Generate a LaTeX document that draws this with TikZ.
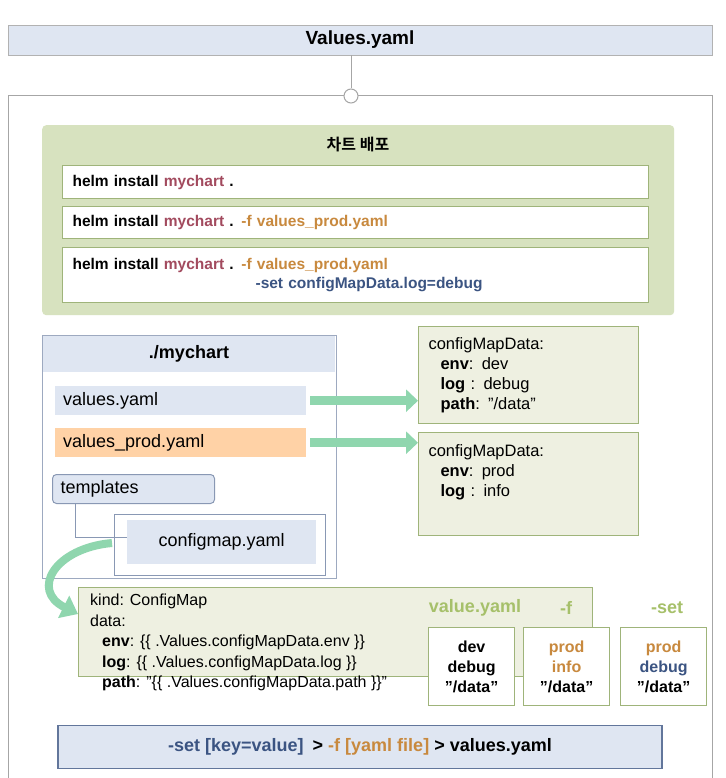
\documentclass[tikz,border=0pt]{standalone}
\usepackage{fontspec}
\setmainfont{Liberation Sans}
\newfontfamily\kr{Noto Sans CJK KR}[BoldFont={Noto Sans CJK KR Bold}]
\usetikzlibrary{arrows.meta}
\definecolor{hdr}{HTML}{DFE6F2}
\definecolor{grn}{HTML}{D7E2BF}
\definecolor{grnb}{HTML}{9FB47A}
\definecolor{mar}{HTML}{A24A5E}
\definecolor{org}{HTML}{C8893E}
\definecolor{blu}{HTML}{3B5482}
\definecolor{olv}{HTML}{A6C06A}
\definecolor{cfg}{HTML}{EEF0E1}
\definecolor{arr}{HTML}{8FD6AE}
\tikzset{
  cmd/.style={draw=grnb,fill=white,line width=1.2pt,minimum width=586pt,align=left,anchor=north west,text width=566pt,inner xsep=10pt,font=\fontsize{15.5}{19}\selectfont\bfseries},
  file/.style={minimum width=251pt,minimum height=29pt,anchor=north west,text width=235pt,font=\fontsize{18}{21}\selectfont},
  cbox/.style={draw=grnb,fill=cfg,line width=1pt,anchor=north west,minimum width=220pt,text width=200pt,inner xsep=10pt,align=left,font=\fontsize{16.5}{20}\selectfont},
  vbox/.style={draw=grnb,fill=white,line width=1.2pt,anchor=north west,minimum width=86pt,minimum height=78pt,align=center,font=\fontsize{16}{20}\selectfont\bfseries},
  lbl/.style={text=olv,font=\fontsize{18}{21}\selectfont\bfseries},
  garr/.style={arr,line width=9pt,-{Triangle[length=12pt,width=22pt]}}
}
\begin{document}
\begin{tikzpicture}[x=1pt,y=-1pt]
\useasboundingbox (0,0) rectangle (725,778);
\fill[white] (0,0) rectangle (725,778);
% top
\node[draw=gray!60,fill=hdr,minimum width=704pt,minimum height=30pt,font=\fontsize{19}{22}\selectfont\bfseries] (top) at (360,40) {Values.yaml};
\draw[gray!70,line width=1pt] (8,96) rectangle (712,790);
\node[draw=gray!70,fill=white,circle,line width=1pt,minimum size=14pt,inner sep=0pt] (circ) at (351,96) {};
\draw[gray!70,line width=1pt] (circ.north) -- (circ.north |- top.south);
% deploy box
\node[fill=grn,rounded corners=4pt,minimum width=632pt,minimum height=190pt,anchor=north west] (dep) at (42,125) {};
\node[font=\kr\fontsize{16}{19}\selectfont\bfseries] (deptitle) at (358,145) {차트 배포};
\node[cmd,minimum height=33pt] (c1) at (62,165) {helm install \textcolor{mar}{mychart} .};
\node[cmd,minimum height=32pt] (c2) at (62,206) {helm install \textcolor{mar}{mychart} . \textcolor{org}{-f values\_prod.yaml}};
\node[cmd,minimum height=55pt] (c3) at (62,247) {helm install \textcolor{mar}{mychart} . \textcolor{org}{-f values\_prod.yaml}\\\hspace*{183pt}\textcolor{blu}{-set configMapData.log=debug}};
% mychart
\node[draw=blu!50,fill=white,line width=1pt,minimum width=294pt,minimum height=243pt,anchor=north west] (mc) at (42,335) {};
\fill[hdr] (43,336) rectangle (335,372);
\node[font=\fontsize{18}{21}\selectfont\bfseries] (mct) at (189,354) {./mychart};
\node[file,fill=hdr] (v1) at (55,386) {values.yaml};
\node[file,fill=orange!35!white] (v2) at (55,428) {values\_prod.yaml};
\node[draw=blu!60,fill=hdr,rounded corners=4pt,line width=1pt,minimum width=162pt,minimum height=29pt,anchor=north west,text width=146pt,font=\fontsize{18}{21}\selectfont] (tp) at (52,474) {templates};
\node[draw=blu!60,line width=1pt,minimum width=211pt,minimum height=61pt,anchor=north west] (cmo) at (114,514) {};
\node[fill=hdr,minimum width=189pt,minimum height=44pt,anchor=north west,font=\fontsize{18}{21}\selectfont] (cm) at (127,520) {configmap.yaml};
\draw[blu!60,line width=1pt] (75,503) -- (75,537) -- (127,537);
% config boxes
\node[cbox,minimum height=97pt] (k1) at (418,326) {configMapData:\\\hspace*{12pt}\textbf{env}: dev\\\hspace*{12pt}\textbf{log} : debug\\\hspace*{12pt}\textbf{path}: "/data"};
\node[cbox,minimum height=103pt] (k2) at (418,432) {configMapData:\\\hspace*{12pt}\textbf{env}: prod\\\hspace*{12pt}\textbf{log} : info\\\strut};
\draw[garr] (v1.east)++(4,0) -- (k1.west |- v1.east);
\draw[garr] (v2.east)++(4,0) -- (k2.west |- v2.east);
% configmap box
\node[draw=grnb,fill=cfg,line width=1pt,minimum width=514pt,minimum height=89pt,anchor=north west] (cmb) at (78,587) {};
\node[anchor=north west,align=left,font=\fontsize{16}{20.5}\selectfont,inner sep=0pt] (cmt) at (90,594) {kind: ConfigMap\\data:\\\hspace*{12pt}\textbf{env}: \{\{ .Values.configMapData.env \}\}\\\hspace*{12pt}\textbf{log}: \{\{ .Values.configMapData.log \}\}\\\hspace*{12pt}\textbf{path}: "\{\{ .Values.configMapData.path \}\}"};
\node[lbl] (l1) at (475,608) {value.yaml};
\node[lbl] (l2) at (566,608) {-f};
\node[lbl] (l3) at (667,608) {-set};
\node[vbox] (b1) at (428,627) {dev\\debug\\"/data"};
\node[vbox] (b2) at (523,627) {\textcolor{org}{prod}\\\textcolor{org}{info}\\"/data"};
\node[vbox] (b3) at (620,627) {\textcolor{org}{prod}\\\textcolor{blu}{debug}\\"/data"};
% curved arrow
\coordinate (cs) at (112,543);
\draw[arr,line width=8pt,-{Triangle[length=16pt,width=24pt]}] (cs) .. controls (55,548) and (30,590) .. (cmb.west |- 0,614);
% bottom bar
\node[draw=blu!80,fill=hdr,line width=1.5pt,minimum width=604pt,minimum height=43pt,font=\fontsize{18}{21}\selectfont\bfseries] (bot) at (360,747) {\textcolor{blu}{-set [key=value]}\enspace> \textcolor{org}{-f [yaml file]} > values.yaml};
\end{tikzpicture}
\end{document}
